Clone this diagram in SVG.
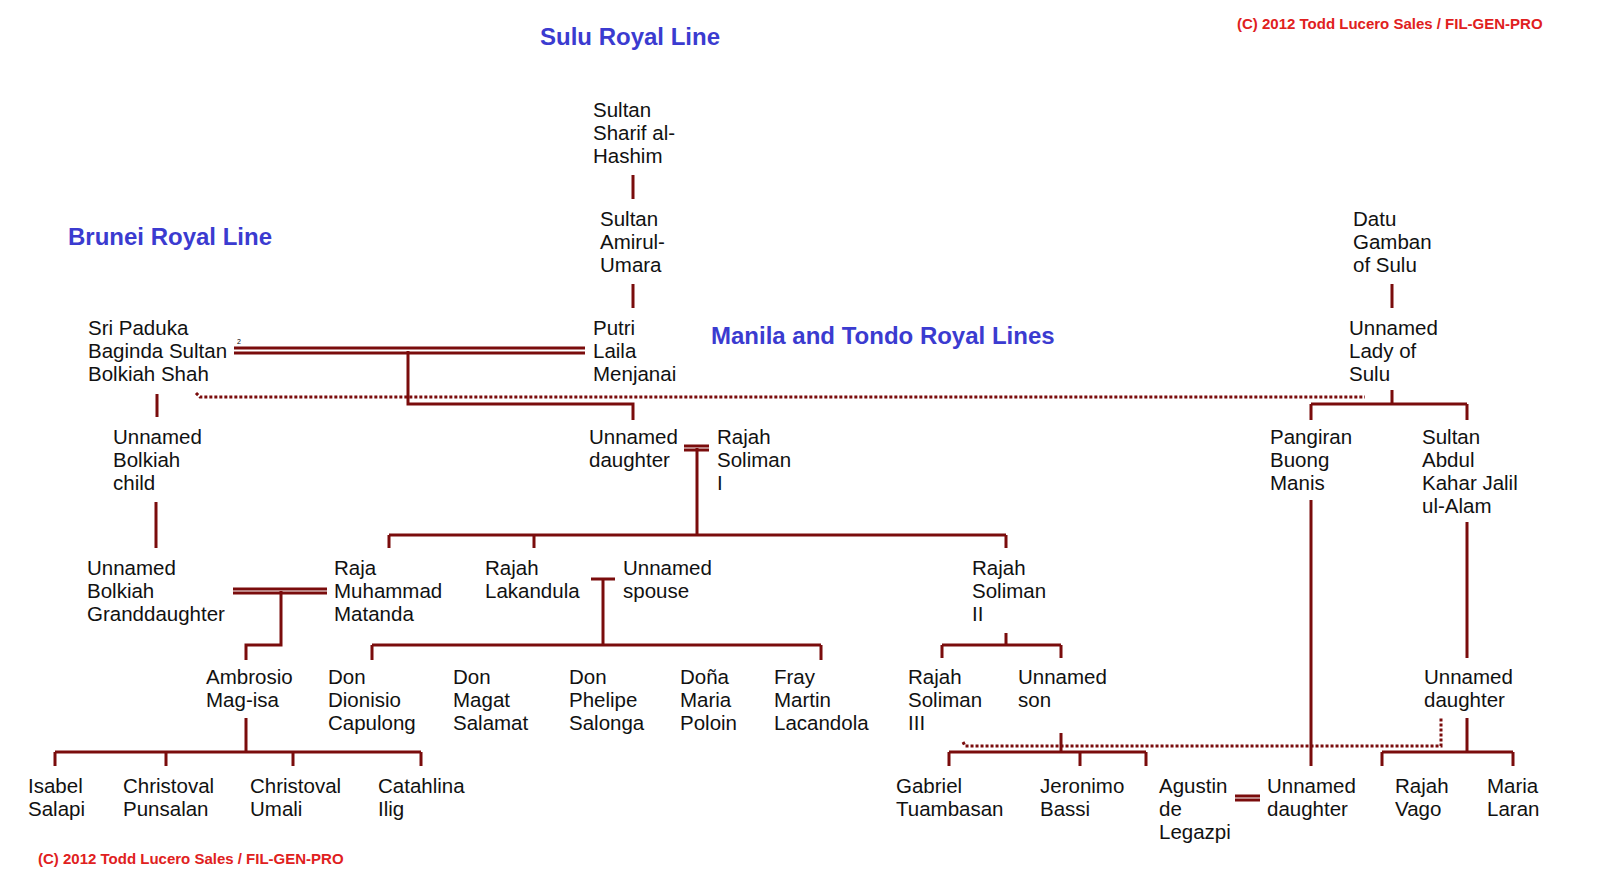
<svg xmlns="http://www.w3.org/2000/svg" width="1600" height="888" viewBox="0 0 1600 888">
<style>
.n{font-family:"Liberation Sans",sans-serif;font-size:20.5px;fill:#111}
.t{font-family:"Liberation Sans",sans-serif;font-size:24px;font-weight:bold;fill:#3b3bd0}
.c{font-family:"Liberation Sans",sans-serif;font-size:15px;font-weight:bold;fill:#e02020}
.l{stroke:#7a0c0c;stroke-width:3;fill:none}
.d{stroke:#7a0c0c;stroke-width:3;fill:none;stroke-dasharray:3 2}
</style>
<rect width="1600" height="888" fill="#fff"/>
<text class="t" x="540" y="45">Sulu Royal Line</text>
<text class="t" x="68" y="245">Brunei Royal Line</text>
<text class="t" x="711" y="344">Manila and Tondo Royal Lines</text>
<text class="c" x="1237" y="29">(C) 2012 Todd Lucero Sales / FIL-GEN-PRO</text>
<text class="c" x="38" y="864">(C) 2012 Todd Lucero Sales / FIL-GEN-PRO</text>
<g id="connectors">
<path class="l" d="M633 175V199M633 284V308M1392 284V308M234 348H585M234 353H585M408 351V404H633V420M157 394V417M156 502V548M1392 390V404M1311 404H1467M1311 404V420M1467 404V420M684 446H709M684 450H709M697 448V535M389 535H1006M389 535V548M534 535V548M1006 535V548M233 589H327M233 593H327M281 591V645H246V660M591 579H615M603 579V645M372 645H821M372 645V660M821 645V660M1006 633V645M942 645H1061M942 645V658M1061 645V658M246 718V752M55 752H421M55 752V766M166 752V766M293 752V766M421 752V766M1061 733V752M949 752H1146M949 752V766M1080 752V766M1146 752V766M1311 500V766M1467 522V658M1467 718V752M1382 752H1513M1382 752V766M1513 752V766M1235 796H1260M1235 800H1260"/>
<path class="d" d="M196 393L200 397H1365M963 742L965 746H1441V718"/>
<text x="237" y="344" font-family="Liberation Sans,sans-serif" font-size="7">2</text>
</g>
<g class="n">
<g id="n1"><text x="593" y="117">Sultan</text><text x="593" y="140">Sharif al-</text><text x="593" y="163">Hashim</text></g>
<g id="n2"><text x="600" y="226">Sultan</text><text x="600" y="249">Amirul-</text><text x="600" y="272">Umara</text></g>
<g id="n3"><text x="1353" y="226">Datu</text><text x="1353" y="249">Gamban</text><text x="1353" y="272">of Sulu</text></g>
<g id="n4"><text x="88" y="335">Sri Paduka</text><text x="88" y="358">Baginda Sultan</text><text x="88" y="381">Bolkiah Shah</text></g>
<g id="n5"><text x="593" y="335">Putri</text><text x="593" y="358">Laila</text><text x="593" y="381">Menjanai</text></g>
<g id="n6"><text x="1349" y="335">Unnamed</text><text x="1349" y="358">Lady of</text><text x="1349" y="381">Sulu</text></g>
<g id="n7"><text x="113" y="444">Unnamed</text><text x="113" y="467">Bolkiah</text><text x="113" y="490">child</text></g>
<g id="n8"><text x="589" y="444">Unnamed</text><text x="589" y="467">daughter</text></g>
<g id="n9"><text x="717" y="444">Rajah</text><text x="717" y="467">Soliman</text><text x="717" y="490">I</text></g>
<g id="n10"><text x="1270" y="444">Pangiran</text><text x="1270" y="467">Buong</text><text x="1270" y="490">Manis</text></g>
<g id="n11"><text x="1422" y="444">Sultan</text><text x="1422" y="467">Abdul</text><text x="1422" y="490">Kahar Jalil</text><text x="1422" y="513">ul-Alam</text></g>
<g id="n12"><text x="87" y="575">Unnamed</text><text x="87" y="598">Bolkiah</text><text x="87" y="621">Granddaughter</text></g>
<g id="n13"><text x="334" y="575">Raja</text><text x="334" y="598">Muhammad</text><text x="334" y="621">Matanda</text></g>
<g id="n14"><text x="485" y="575">Rajah</text><text x="485" y="598">Lakandula</text></g>
<g id="n15"><text x="623" y="575">Unnamed</text><text x="623" y="598">spouse</text></g>
<g id="n16"><text x="972" y="575">Rajah</text><text x="972" y="598">Soliman</text><text x="972" y="621">II</text></g>
<g id="n17"><text x="206" y="684">Ambrosio</text><text x="206" y="707">Mag-isa</text></g>
<g id="n18"><text x="328" y="684">Don</text><text x="328" y="707">Dionisio</text><text x="328" y="730">Capulong</text></g>
<g id="n19"><text x="453" y="684">Don</text><text x="453" y="707">Magat</text><text x="453" y="730">Salamat</text></g>
<g id="n20"><text x="569" y="684">Don</text><text x="569" y="707">Phelipe</text><text x="569" y="730">Salonga</text></g>
<g id="n21"><text x="680" y="684">Doña</text><text x="680" y="707">Maria</text><text x="680" y="730">Poloin</text></g>
<g id="n22"><text x="774" y="684">Fray</text><text x="774" y="707">Martin</text><text x="774" y="730">Lacandola</text></g>
<g id="n23"><text x="908" y="684">Rajah</text><text x="908" y="707">Soliman</text><text x="908" y="730">III</text></g>
<g id="n24"><text x="1018" y="684">Unnamed</text><text x="1018" y="707">son</text></g>
<g id="n25"><text x="1424" y="684">Unnamed</text><text x="1424" y="707">daughter</text></g>
<g id="n26"><text x="28" y="793">Isabel</text><text x="28" y="816">Salapi</text></g>
<g id="n27"><text x="123" y="793">Christoval</text><text x="123" y="816">Punsalan</text></g>
<g id="n28"><text x="250" y="793">Christoval</text><text x="250" y="816">Umali</text></g>
<g id="n29"><text x="378" y="793">Catahlina</text><text x="378" y="816">Ilig</text></g>
<g id="n30"><text x="896" y="793">Gabriel</text><text x="896" y="816">Tuambasan</text></g>
<g id="n31"><text x="1040" y="793">Jeronimo</text><text x="1040" y="816">Bassi</text></g>
<g id="n32"><text x="1159" y="793">Agustin</text><text x="1159" y="816">de</text><text x="1159" y="839">Legazpi</text></g>
<g id="n33"><text x="1267" y="793">Unnamed</text><text x="1267" y="816">daughter</text></g>
<g id="n34"><text x="1395" y="793">Rajah</text><text x="1395" y="816">Vago</text></g>
<g id="n35"><text x="1487" y="793">Maria</text><text x="1487" y="816">Laran</text></g>
</g>
</svg>
